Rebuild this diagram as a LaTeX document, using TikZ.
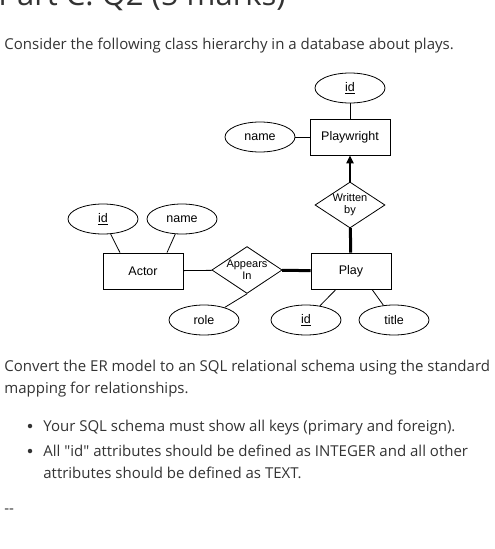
\documentclass[tikz,border=0pt]{standalone}
\usepackage{fontspec}
\setmainfont{Open Sans}[Ligatures=TeXOff]
\newfontfamily\erfont{Liberation Sans}
\usetikzlibrary{shapes.geometric,arrows.meta}
\definecolor{bodytext}{HTML}{333333}

\tikzset{
  entity/.style={draw, rectangle, minimum width=80pt, minimum height=36pt, font=\erfont\fontsize{12.5}{14}\selectfont},
  attr/.style={draw, ellipse, minimum width=70pt, minimum height=30pt, inner sep=0pt, font=\erfont\fontsize{12.5}{14}\selectfont},
  rel/.style={draw, diamond, aspect=1.5, minimum width=70pt, minimum height=46pt, inner sep=0pt, align=center, font=\erfont\fontsize{11}{12}\selectfont},
  para/.style={anchor=base west, inner sep=0pt, text=bodytext, font=\fontsize{15}{22}\selectfont},
  dot/.style={circle, fill=bodytext, inner sep=0pt, minimum size=4.5pt},
}

\begin{document}
\begin{tikzpicture}[x=1pt, y=-1pt, line width=0.8pt]
\useasboundingbox (0,0) rectangle (495,549);

% heading, cut off by the top edge
\node (head) [para, font=\fontsize{31}{34}\selectfont] at (-2,5) {Part C: Q2 (5 marks)};
\node (intro) [para] at (4,49) {Consider the following class hierarchy in a database about plays.};

% entities
\node (playwright) [entity] at (350,137) {Playwright};
\node (play) [entity] at (351,271) {Play};
\node (actor) [entity] at (143,271) {Actor};

% relationships
\node (written) [rel] at (350,205) {Written\\by};
\node (appears) [rel] at (247,270) {Appears\\In};

% attributes
\node (pwid) [attr] at (350,88) {\underline{id}};
\node (pwname) [attr] at (260,137) {name};
\node (actid) [attr] at (103,219) {\underline{id}};
\node (actname) [attr] at (182,219) {name};
\node (role) [attr] at (204,320) {role};
\node (playid) [attr] at (306,320) {\underline{id}};
\node (title) [attr] at (394,320) {title};

\draw (pwid) -- (playwright);
\draw (pwname) -- (playwright);
\draw[-{Triangle[width=7pt,length=8pt]}, line width=2.4pt] (written) -- (playwright);
\draw[line width=3pt] (written) -- (play);
\draw[line width=3pt] (appears) -- (play);
\draw (actor) -- (appears);
\draw (actid) -- (actor.north west -| 120,0);
\draw (actname) -- (actor.north east -| 167,0);
\draw (appears.south) -- (role);
\draw (play.south -| 336,0) -- (playid);
\draw (play.south -| 372,0) -- (title);

% question text
\node (conv1) [para] at (4,371) {Convert the ER model to an SQL relational schema using the standard};
\node (conv2) [para] at (4,393) {mapping for relationships.};
\node (b1) [dot] at (30,426) {};
\node (item1) [para] at (43,431) {Your SQL schema must show all keys (primary and foreign).};
\node (b2) [dot] at (30,451) {};
\node (item2) [para] at (43,456) {All "id" attributes should be defined as INTEGER and all other};
\node (item2b) [para] at (43,478) {attributes should be defined as TEXT.};
\node (dashes) [para] at (4,513) {--};
\end{tikzpicture}
\end{document}
